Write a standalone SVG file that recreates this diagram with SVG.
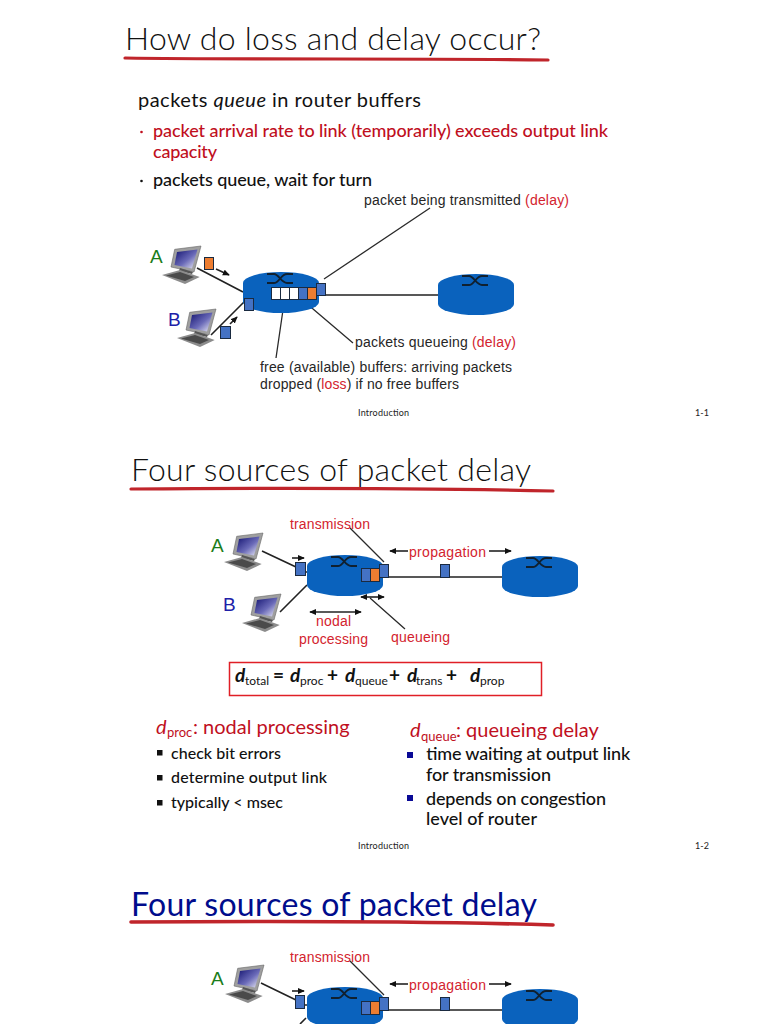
<svg xmlns="http://www.w3.org/2000/svg" width="768" height="1024" viewBox="0 0 768 1024">
<style>
.ti{font-family:"Lato","Open Sans",sans-serif;font-weight:300;font-size:32px;fill:#111}
.bd{font-family:"Lato","Open Sans",sans-serif;font-size:18px;fill:#111;font-weight:500}
.rd{fill:#c00f1e}
.ar{font-family:"Liberation Sans",Arial,sans-serif;font-size:14px;fill:#262626}
.lr{fill:#d3232e}
.ft{font-family:"Lato","Open Sans",sans-serif;font-size:9px;fill:#222}
.ln{stroke:#2a2a2a;stroke-width:1.3;fill:none}
.lk{stroke:#222;stroke-width:1.6;fill:none}
.ul{stroke:#c0252b;stroke-width:3.2;fill:none;stroke-linecap:round}
.pb{fill:#4472c4;stroke:#1a2a40;stroke-width:1}
.po{fill:#ed7d31;stroke:#1a2a40;stroke-width:1}
.pw{fill:#fff;stroke:#1a2a40;stroke-width:1}
.hd{font-family:"Liberation Sans",Arial,sans-serif;font-size:19px}
.fm{font-family:"Lato","Open Sans",sans-serif;font-size:19px;fill:#111;font-weight:700}
.sb{font-size:12px;font-weight:400}
.it{font-style:italic}
</style>
<defs>
<marker id="ah" viewBox="0 0 8 8" refX="7" refY="4" markerWidth="7" markerHeight="7" markerUnits="userSpaceOnUse" orient="auto-start-reverse"><path d="M0 0.5L8 4L0 7.5Z" fill="#111"/></marker>
<linearGradient id="scr" x1="0" y1="0" x2="1" y2="1"><stop offset="0" stop-color="#10106e"/><stop offset=".55" stop-color="#6a6ab8"/><stop offset="1" stop-color="#f0f0f8"/></linearGradient>
<g id="router">
<path d="M0 11A38 11 0 0 1 76 11V30A38 11 0 0 1 0 30Z" fill="#0a62bd"/>
<path d="M24 2H31C36 2 38 11 44 11H50M24 11H31C36 11 38 2 44 2H50" fill="none" stroke="#10202f" stroke-width="1.800"/>
</g>
<g id="pc">
<path d="M12.700 4.300L39 1L32 27L9 22Z" fill="#9f9f9f" stroke="#666" stroke-width=".6"/>
<path d="M15 7L35.500 4.500L30 23.500L12.500 20Z" fill="url(#scr)"/>
<path d="M18 23L31 27L30 29L17 26Z" fill="#555"/>
<path d="M0 30L18 25L37.700 32L23 39Z" fill="#8c8c8c"/>
<path d="M4 30.500L18 27L32 32L23 36Z" fill="#4a4a4a"/>
</g>
</defs>
<rect width="768" height="1024" fill="#fff"/>

<g id="slide1-text">
<text class="ti" x="125" y="50" textLength="416">How do loss and delay occur?</text>
<path class="ul" d="M125 58C250 60 420 58 548 60"/>
<text class="bd" x="138" y="107" style="font-size:20px;font-weight:400" textLength="283">packets <tspan class="it">queue</tspan> in router buffers</text>
<circle cx="141.500" cy="132" r="1.300" fill="#c00f1e"/>
<text class="bd rd" x="153" y="137" textLength="455">packet arrival rate to link (temporarily) exceeds output link</text>
<text class="bd rd" x="153" y="158" textLength="64">capacity</text>
<circle cx="141.500" cy="181" r="1.300" fill="#111"/>
<text class="bd" x="153" y="186" textLength="219">packets queue, wait for turn</text>
<text class="ar" x="364" y="205" textLength="205">packet being transmitted <tspan class="lr">(delay)</tspan></text>
<text class="ar" x="355" y="347" textLength="161">packets queueing <tspan class="lr">(delay)</tspan></text>
<text class="ar" x="260" y="372" textLength="252">free (available) buffers: arriving packets</text>
<text class="ar" x="260" y="389" textLength="199">dropped (<tspan class="lr">loss</tspan>) if no free buffers</text>
<text class="ft" x="358" y="416" textLength="51">Introduction</text>
<text class="ft" x="695" y="416" textLength="14">1-1</text>
</g>

<g id="slide1-connectors">
<path class="lk" d="M197 268L243 292M211 335L244 302M325 295L440 295"/>
<path class="ln" d="M324 279L430 208M306 303L353 343M284 303L276 358"/>
<path class="lk" marker-end="url(#ah)" d="M216 269L229 275"/>
<path class="lk" marker-end="url(#ah)" d="M244 295L259 295"/>
<path class="lk" marker-end="url(#ah)" d="M230 324L237 317"/>
</g>

<g id="s1-router1"><use href="#router" x="243" y="272"/></g>
<g id="s1-router2"><use href="#router" x="438" y="274"/></g>
<g id="s1-hostA"><use href="#pc" x="162" y="245"/><text class="hd" x="150" y="263" fill="#1b7d1b">A</text></g>
<g id="s1-hostB"><use href="#pc" x="177" y="308"/><text class="hd" x="168" y="326" fill="#2020a8">B</text></g>
<g id="s1-packets">
<rect class="po" x="204.500" y="257.500" width="9" height="12"/>
<rect class="pb" x="244.500" y="298.500" width="9" height="12"/>
<rect class="pb" x="220.500" y="326.500" width="10" height="12"/>
<rect class="pw" x="271.500" y="287.500" width="9" height="12"/>
<rect class="pw" x="280.500" y="287.500" width="9" height="12"/>
<rect class="pw" x="289.500" y="287.500" width="9" height="12"/>
<rect class="pb" x="298.500" y="287.500" width="9" height="12"/>
<rect class="po" x="307.500" y="287.500" width="9" height="12"/>
<rect class="pb" x="316.500" y="283.500" width="9" height="12"/>
</g>

<g id="slide2-text">
<text class="ti" x="131" y="481" textLength="400">Four sources of packet delay</text>
<path class="ul" d="M131 489C260 488 420 488 553 491"/>
<text class="ar lr" x="290" y="529" textLength="80">transmission</text>
<text class="ar lr" x="409" y="557" textLength="77">propagation</text>
<text class="ar lr" x="316" y="626" textLength="35">nodal</text>
<text class="ar lr" x="299" y="644" textLength="69">processing</text>
<text class="ar lr" x="391" y="642" textLength="59">queueing</text>
<rect x="229.500" y="662.500" width="312" height="33" fill="#fff" stroke="#e01f26" stroke-width="1.500"/>
<text class="fm"><tspan class="it" x="235" y="682">d</tspan><tspan class="sb" x="245" y="685">total</tspan><tspan x="273" y="682">=</tspan><tspan class="it" x="290" y="682">d</tspan><tspan class="sb" x="300" y="685">proc</tspan><tspan x="327" y="682">+</tspan><tspan class="it" x="345" y="682">d</tspan><tspan class="sb" x="355" y="685">queue</tspan><tspan x="389" y="682">+</tspan><tspan class="it" x="407" y="682">d</tspan><tspan class="sb" x="416" y="685">trans</tspan><tspan x="446" y="682">+</tspan><tspan class="it" x="470" y="682">d</tspan><tspan class="sb" x="480" y="685">prop</tspan></text>

<text class="bd rd" style="font-size:20px;font-weight:400"><tspan class="it" x="156" y="734">d</tspan><tspan style="font-size:13px" x="167" y="737">proc</tspan><tspan x="193" y="734">: nodal processing</tspan></text>
<rect x="157" y="750" width="5.500" height="5.500" fill="#111"/>
<rect x="157" y="775" width="5.500" height="5.500" fill="#111"/>
<rect x="157" y="800" width="5.500" height="5.500" fill="#111"/>
<text class="bd" style="font-size:16px" x="171" y="759" textLength="110">check bit errors</text>
<text class="bd" style="font-size:16px" x="171" y="783" textLength="156">determine output link</text>
<text class="bd" style="font-size:16px" x="171" y="808" textLength="112">typically &lt; msec</text>

<text class="bd rd" style="font-size:20px;font-weight:400"><tspan class="it" x="410" y="737">d</tspan><tspan style="font-size:13px" x="421" y="741">queue</tspan><tspan x="456" y="737">: queueing delay</tspan></text>
<rect x="407" y="752" width="6" height="6" fill="#0a0a96"/>
<rect x="407" y="795" width="6" height="6" fill="#0a0a96"/>
<text class="bd" x="426" y="760" textLength="204">time waiting at output link</text>
<text class="bd" x="426" y="781" textLength="125">for transmission</text>
<text class="bd" x="426" y="805" textLength="180">depends on congestion</text>
<text class="bd" x="426" y="825" textLength="111">level of router</text>
<text class="ft" x="358" y="849" textLength="51">Introduction</text>
<text class="ft" x="695" y="849" textLength="14">1-2</text>
</g>

<g id="slide2-connectors">
<path class="lk" d="M262 551L296 567M280 612L307 585M305 572L308 572M389 577L503 577"/>
<path class="ln" d="M350 528L384 562M370 598L405 629"/>
<path class="lk" marker-end="url(#ah)" d="M292 558L304 558"/>
<path class="lk" marker-end="url(#ah)" d="M408 551L390 551"/>
<path class="lk" marker-end="url(#ah)" d="M489 551L511 551"/>
<path class="lk" marker-start="url(#ah)" marker-end="url(#ah)" d="M310 612L361 612"/>
<path class="lk" marker-start="url(#ah)" marker-end="url(#ah)" d="M361 597L384 597"/>
</g>
<g id="s2-router1"><use href="#router" x="307" y="555"/></g>
<g id="s2-router2"><use href="#router" x="502" y="556"/></g>
<g id="s2-hostA"><use href="#pc" x="224" y="532"/><text class="hd" x="211" y="552" fill="#1b7d1b">A</text></g>
<g id="s2-hostB"><use href="#pc" x="242" y="593"/><text class="hd" x="223" y="611" fill="#2020a8">B</text></g>
<g id="s2-packets">
<rect class="pb" x="295.500" y="562.500" width="10" height="13"/>
<rect class="pb" x="361.500" y="568.500" width="9" height="13"/>
<rect class="po" x="370.500" y="568.500" width="9" height="13"/>
<rect class="pb" x="379.500" y="564.500" width="9" height="13"/>
<rect class="pb" x="440.500" y="564.500" width="9" height="13"/>
</g>

<g id="slide3-text">
<text class="ti" style="fill:#000c8c;font-weight:400" x="131" y="916" textLength="406">Four sources of packet delay</text>
<path class="ul" style="stroke-width:3.600" d="M131 922C260 921 420 921 553 925"/>
<text class="ar lr" x="290" y="962" textLength="80">transmission</text>
<text class="ar lr" x="409" y="990" textLength="77">propagation</text>
</g>
<g id="slide3-connectors">
<path class="lk" d="M261 983L296 1000M305 1005L308 1005M389 1010L503 1010M300 1024L306 1018"/>
<path class="ln" d="M350 961L384 995"/>
<path class="lk" marker-end="url(#ah)" d="M292 991L304 991"/>
<path class="lk" marker-end="url(#ah)" d="M408 984L390 984"/>
<path class="lk" marker-end="url(#ah)" d="M489 984L511 984"/>
</g>
<g id="s3-router1"><use href="#router" x="307" y="987"/></g>
<g id="s3-router2"><use href="#router" x="502" y="989"/></g>
<g id="s3-hostA"><use href="#pc" x="225" y="964"/><text class="hd" x="211" y="985" fill="#1b7d1b">A</text></g>
<g id="s3-packets">
<rect class="pb" x="295.500" y="995.500" width="9" height="13"/>
<rect class="pb" x="361.500" y="1001.500" width="9" height="13"/>
<rect class="po" x="370.500" y="1001.500" width="9" height="13"/>
<rect class="pb" x="379.500" y="997.500" width="9" height="13"/>
<rect class="pb" x="440.500" y="997.500" width="9" height="13"/>
</g>
</svg>
